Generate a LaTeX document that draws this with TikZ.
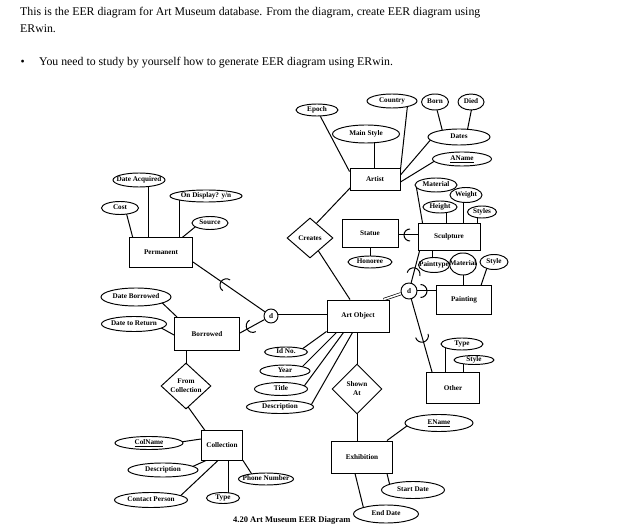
\documentclass[tikz,border=0pt]{standalone}
\usepackage{fontspec}
\setmainfont{Liberation Serif}
\usetikzlibrary{shapes.geometric,calc}
\pgfdeclarelayer{bg}
\pgfsetlayers{bg,main}
\newcommand\twol[2]{\begin{tabular}{@{}c@{}}#1\\#2\end{tabular}}
\tikzset{
  lbl/.style={font=\fontsize{7.2}{9.5}\selectfont\bfseries},
  hdr/.style={font=\fontsize{11.8}{14}\selectfont, inner sep=0pt},
  zbox/.style={execute at begin node={\hbox to 0pt\bgroup\hss}, execute at end node={\hss\egroup}},
  attr/.style 2 args={ellipse, draw, fill=white, line width=0.95pt, inner sep=0pt,
     minimum width=#1pt, minimum height=#2pt, lbl, zbox, text height=4.8pt, text depth=1.4pt},
  ent/.style 2 args={rectangle, draw, fill=white, line width=0.95pt, inner sep=0pt,
     minimum width=#1pt, minimum height=#2pt, lbl},
  rel/.style 2 args={diamond, draw, fill=white, line width=0.95pt, inner sep=0pt,
     minimum width=#1pt, minimum height=#2pt, lbl, zbox},
  dc/.style={circle, draw, fill=white, line width=0.95pt, inner sep=0pt, minimum size=#1pt, lbl},
  ln/.style={line width=1pt},
  dbl/.style={line width=0.7pt, double, double distance=1.6pt},
  sub/.style={line width=1pt}
}
\begin{document}
\begin{tikzpicture}[x=1pt,y=-1pt]
\useasboundingbox (0,0) rectangle (624,529);

% header text
\node[hdr, anchor=base west] (h1) at (20,15.7) {This is the EER diagram for Art Museum database. From the diagram, create EER diagram using};
\node[hdr, anchor=base west] (h2) at (20,32.3) {ERwin.};
\node[hdr, anchor=base west] (bul) at (20.5,65.7) {•};
\node[hdr, anchor=base west] (h3) at (39,65.7) {You need to study by yourself how to generate EER diagram using ERwin.};

% Artist
\node[attr={42}{12}] (ep) at (317,110) {Epoch};
\node[attr={50}{14}] (co) at (392,101) {Country};
\node[attr={27}{16}] (born) at (435,102) {Born};
\node[attr={26}{16}] (died) at (471,102) {Died};
\node[attr={67}{18}] (ms) at (366,134) {Main Style};
\node[attr={62}{16}] (dates) at (459,137) {Dates};
\node[attr={59}{14}] (an) at (462,159) {\underline{AName}};
\node[ent={50}{22}] (art) at (375,179) {Artist};

% Sculpture
\node[ent={62}{27}] (scu) at (449,237) {Sculpture};
\node[attr={42}{14}] (mat1) at (436,185) {Material};
\node[attr={32}{15}] (wt) at (466,195) {Weight};
\node[attr={34}{12}] (ht) at (440,207) {Height};
\node[attr={29}{12}] (sty) at (482,212) {Styles};
\node[ent={56}{28}] (stat) at (370,233) {Statue};
\node[attr={44}{12}] (hon) at (370,262) {Honoree};
\node[rel={46}{40}] (cr) at (310,238) {Creates};

% Painting
\node[attr={31}{15}] (pt) at (434,265) {Painttype};
\node[attr={27}{22}] (mat2) at (463,264) {Material};
\node[attr={28}{15}] (sty2) at (494,262) {Style};
\node[ent={55}{29}] (pai) at (464,300) {Painting};
\node[dc={16}] (rd) at (409,291) {d};

% Art Object
\node[ent={62}{32}] (ao) at (358,316) {Art Object};
\node[dc={14}] (ld) at (271,316) {d};

% Other
\node[ent={53}{31}] (oth) at (453,388) {Other};
\node[attr={42}{12}] (tp) at (462,344) {Type};
\node[attr={40}{9}] (st) at (474,360) {Style};

% Permanent
\node[attr={52}{14}] (da) at (139,180) {Date Acquired};
\node[attr={72}{12}] (od) at (206,196) {On Display? y/n};
\node[attr={37}{13}] (cost) at (120,208) {Cost};
\node[attr={36}{13}] (src) at (210,223) {Source};
\node[ent={63}{30}] (perm) at (161,252) {Permanent};

% Borrowed
\node[attr={70}{18}] (db) at (136,297) {Date Borrowed};
\node[attr={65}{15}] (dr) at (134,324) {Date to Return};
\node[ent={65}{33}] (bor) at (207,334) {Borrowed};
\node[rel={50}{46}] (fc) at (186,386) {\twol{From}{Collection}};

% Collection
\node[ent={41}{30}] (col) at (222,445) {Collection};
\node[attr={68}{13}] (cn) at (149,443) {\underline{ColName}};
\node[attr={70}{14}] (cd) at (163,470) {Description};
\node[attr={73}{15}] (cp) at (151,500) {Contact Person};
\node[attr={33}{11}] (ctp) at (223,498) {Type};
\node[attr={55}{12}] (pn) at (266,479) {Phone Number};

% Art object attributes
\node[attr={43}{10}] (idn) at (286,352) {Id No.};
\node[attr={50}{12}] (yr) at (285,371) {Year};
\node[attr={53}{13}] (ti) at (281,389) {Title};
\node[attr={67}{13}] (de) at (280,407) {Description};
\node[rel={50}{50}] (sa) at (357,389) {\twol{Shown}{At}};

% Exhibition
\node[ent={61}{32}] (exh) at (362,457) {Exhibition};
\node[attr={68}{17}] (en) at (439,423) {\underline{EName}};
\node[attr={63}{17}] (sd) at (413,490) {Start Date};
\node[attr={65}{18}] (ed) at (386,514) {End Date};

% caption
\node[font=\fontsize{8.5}{10}\selectfont\bfseries, inner sep=0pt, anchor=base west] (cap) at (233,522.5) {4.20 Art Museum EER Diagram};

\begin{pgfonlayer}{bg}
% Artist
\draw[ln] (ep) -- ($(art.north west)+(0,4)$);
\draw[ln] ($(ms)+(8,0)$) -- ($(art)+(-1,0)$);
\draw[ln] ($(co)+(16,0)$) -- ($(art.north east)+(0,2)$);
\draw[ln] ($(dates)+(-26,0)$) -- ($(art.east)+(0,-4)$);
\draw[ln] ($(an)+(-24,0)$) -- ($(art.east)+(0,3)$);
\draw[ln] (born) -- ($(dates)+(-15,0)$);
\draw[ln] ($(died)+(2,0)$) -- ($(dates)+(7,0)$);
\draw[ln] ($(art.south west)+(2,-4)$) -- ($(cr)+(2,-10)$);
\draw[ln] (cr) -- ($(ao.north)+(-8,0)$);
% Statue / Sculpture
\draw[ln] (stat) -- (hon);
\draw[ln] ($(stat)+(0,2)$) -- ($(scu)+(0,-2)$);
\draw[ln] ($(mat1)+(-20,0)$) -- ($(scu.north west)+(5,0)$);
\draw[ln] ($(wt)+(-3,0)$) -- ($(scu)+(14,0)$);
\draw[ln] ($(ht)+(6,0)$) -- ($(scu)+(-3,0)$);
\draw[ln] ($(sty)+(-5,0)$) -- ($(scu)+(28,0)$);
\draw[ln] ($(scu)+(-17,0)$) -- ($(pt)+(-2,0)$);
\draw[ln] ($(scu.south west)+(2,0)$) -- (rd);
% Painting
\draw[ln] (mat2) -- ($(pai)+(-1,0)$);
\draw[ln] ($(sty2)+(-5,0)$) -- ($(pai)+(12,0)$);
\draw[ln] (rd) -- ($(pai.west)+(0,-9)$);
\draw[dbl] (rd) -- ($(ao.north east)+(-6,0)$);
% Other
\draw[ln] (rd) -- ($(oth.north west)+(6,0)$);
\draw[ln] ($(tp)+(-17,0)$) -- ($(oth)+(-8,0)$);
\draw[ln] ($(st)+(-11,0)$) -- ($(oth)+(10,0)$);
% left specialization
\draw[dbl] (ld) -- (ao);
\draw[ln] ($(perm.east)+(0,10)$) -- (ld);
\draw[ln] (ld) -- ($(bor.east)+(0,-1)$);
% Permanent
\draw[ln] ($(da)+(9,0)$) -- ($(perm)+(-13,0)$);
\draw[ln] ($(od)+(-27,0)$) -- ($(perm)+(18,0)$);
\draw[ln] ($(cost)+(5,0)$) -- ($(perm.north west)+(4,2)$);
\draw[ln] ($(src)+(-10,0)$) -- ($(perm.north east)+(-12,2)$);
% Borrowed
\draw[ln] ($(db)+(20,0)$) -- ($(bor.north west)+(3,0)$);
\draw[ln] ($(dr)+(20,0)$) -- ($(bor.west)+(0,1)$);
\draw[ln] ($(bor)+(-21,0)$) -- (fc);
\draw[ln] ($(fc)+(0,18)$) -- ($(col.north west)+(4,1)$);
% Collection
\draw[ln] ($(cn)+(25,0)$) -- ($(col.west)+(0,-6)$);
\draw[ln] ($(cd)+(22,0)$) -- ($(col.south west)+(5,0)$);
\draw[ln] ($(cp)+(25,0)$) -- ($(col.south)+(-4,0)$);
\draw[ln] ($(col)+(6,0)$) -- ($(ctp)+(5,0)$);
\draw[ln] (col.south east) -- ($(pn)+(-11,0)$);
% Art object attributes
\draw[ln] ($(ao.south west)+(0,-1)$) -- ($(idn)+(12,0)$);
\draw[ln] ($(ao.south west)+(10,0)$) -- ($(yr)+(13,0)$);
\draw[ln] ($(ao.south west)+(17,0)$) -- ($(ti)+(21,0)$);
\draw[ln] ($(ao.south west)+(26,0)$) -- ($(de)+(30,0)$);
\draw[ln] ($(ao)+(-1,0)$) -- (sa);
\draw[ln] (sa) -- ($(exh)+(-5,0)$);
% Exhibition
\draw[ln] ($(en)+(-28,0)$) -- ($(exh.north east)+(-6,0)$);
\draw[ln] ($(exh.south east)+(-6,0)$) -- ($(sd)+(-22,0)$);
\draw[ln] ($(exh.south)+(-7,0)$) -- ($(ed)+(-21,0)$);
\end{pgfonlayer}

% subset symbols
\draw[sub] (410,235) ++(90:6) arc[start angle=90, end angle=270, radius=6];
\draw[sub] (226.4,285.3) ++(124.5:6.5) arc[start angle=124.5, end angle=304.5, radius=6.5];
\draw[sub] (252.7,325.9) ++(61.6:6.5) arc[start angle=61.6, end angle=241.6, radius=6.5];
\draw[sub] (413.5,274.3) ++(195:6.5) arc[start angle=195, end angle=375, radius=6.5];
\draw[sub] (420.5,291) ++(270:6.5) arc[start angle=270, end angle=450, radius=6.5];
\draw[sub] (421.9,335.75) ++(343.9:6.5) arc[start angle=343.9, end angle=523.9, radius=6.5];
\end{tikzpicture}
\end{document}
